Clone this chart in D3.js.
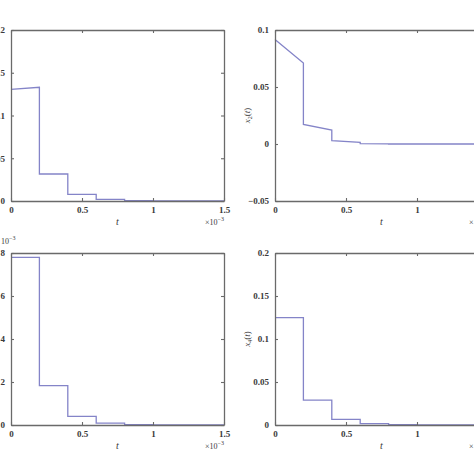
<!DOCTYPE html>
<html><head><meta charset="utf-8">
<script src="https://cdn.jsdelivr.net/npm/d3@7"></script>
<style>
html,body{margin:0;padding:0;background:#fff;}
svg{display:block;font-family:"Liberation Serif","DejaVu Serif",serif;}
</style></head>
<body>
<svg id="c" width="474" height="474"></svg>
<script>
// time points (×10^-3)
const t1 = [0, 0.2, 0.2, 0.4, 0.4, 0.6, 0.6, 0.8, 0.8, 1.0, 1.0, 1.5];
const x1 = [0.1306, 0.1330, 0.0316, 0.0316, 0.0078, 0.0078, 0.0018, 0.0018, 0.0004, 0.0004, 0, 0];
const t2 = [0, 0.2, 0.2, 0.4, 0.4, 0.6, 0.6, 0.8, 0.8, 1.0, 1.0, 1.5];
const x2 = [0.0917, 0.0710, 0.0172, 0.0122, 0.0029, 0.0015, 0.0003, 0.0001, 0, 0, 0, 0];
const t3 = [0, 0.2, 0.2, 0.4, 0.4, 0.6, 0.6, 0.8, 0.8, 1.0, 1.0, 1.5];
const x3 = [7.80, 7.80, 1.83, 1.83, 0.40, 0.40, 0.09, 0.09, 0.02, 0.02, 0, 0]; // ×10^-3
const t4 = [0, 0.2, 0.2, 0.4, 0.4, 0.6, 0.6, 0.8, 0.8, 1.0, 1.0, 1.5];
const x4 = [0.1248, 0.1248, 0.0290, 0.0290, 0.0066, 0.0066, 0.0015, 0.0015, 0.0003, 0.0003, 0, 0];

const xTicks = [0, 0.5, 1, 1.5];
const xTickLabels = ["0", "0.5", "1", "1.5"];
const yTicks1 = [0, 0.05, 0.1, 0.15, 0.2];
const yTickLabels1 = ["0", "0.05", "0.1", "0.15", "0.2"];
const yTicks2 = [-0.05, 0, 0.05, 0.1];
const yTickLabels2 = ["\u22120.05", "0", "0.05", "0.1"];
const yTicks3 = [0, 2, 4, 6, 8];
const yTickLabels3 = ["0", "2", "4", "6", "8"];
const yTicks4 = [0, 0.05, 0.1, 0.15, 0.2];
const yTickLabels4 = ["0", "0.05", "0.1", "0.15", "0.2"];

const panels = [
  {left: 11, top: 30, w: 213, h: 171, t: t1, v: x1, yd: [0, 0.2], yt: yTicks1, yl: yTickLabels1, sub: "1", xExp: true},
  {left: 275, top: 30, w: 213, h: 171, t: t2, v: x2, yd: [-0.05, 0.1], yt: yTicks2, yl: yTickLabels2, sub: "2", xExp: true},
  {left: 11, top: 253, w: 213, h: 172, t: t3, v: x3, yd: [0, 8], yt: yTicks3, yl: yTickLabels3, sub: "3", xExp: true, yExp: true},
  {left: 275, top: 253, w: 213, h: 172, t: t4, v: x4, yd: [0, 0.2], yt: yTicks4, yl: yTickLabels4, sub: "4", xExp: true}
];

const svg = d3.select("#c");
const axisCol = "#6a6a6a", textCol = "#3a3a3a", lineCol = "#8484c8";
const fs = 9;

panels.forEach(p => {
  const g = svg.append("g").attr("transform", `translate(${p.left},${p.top})`);
  const x = d3.scaleLinear().domain([0, 1.5]).range([0, p.w]);
  const y = d3.scaleLinear().domain(p.yd).range([p.h, 0]);

  // data line
  const pts = p.t.map((tv, i) => [tv, p.v[i]]);
  g.append("path").datum(pts)
    .attr("d", d3.line().x(d => x(d[0])).y(d => y(d[1])))
    .attr("fill", "none").attr("stroke", lineCol).attr("stroke-width", 1.3);

  // axes (ticks inward)
  const styleAxis = sel => {
    sel.select(".domain").attr("stroke", axisCol).attr("stroke-width", 1.3);
    sel.selectAll(".tick line").attr("stroke", axisCol).attr("stroke-width", 1.1);
    sel.selectAll(".tick text").attr("fill", textCol).attr("font-size", fs)
      .attr("font-family", "Liberation Serif, DejaVu Serif, serif").attr("font-weight", "bold");
  };
  const bx = g.append("g").attr("transform", `translate(0,${p.h})`)
    .call(d3.axisBottom(x).tickValues(xTicks).tickSizeInner(-3).tickSizeOuter(0).tickPadding(6)
      .tickFormat((d, i) => xTickLabels[i]));
  styleAxis(bx);
  const tx = g.append("g")
    .call(d3.axisTop(x).tickValues(xTicks).tickSizeInner(-3).tickSizeOuter(0).tickFormat(""));
  styleAxis(tx);
  const ly = g.append("g")
    .call(d3.axisLeft(y).tickValues(p.yt).tickSizeInner(-3).tickSizeOuter(0).tickPadding(6)
      .tickFormat((d, i) => p.yl[i]));
  styleAxis(ly);
  const ry = g.append("g").attr("transform", `translate(${p.w},0)`)
    .call(d3.axisRight(y).tickValues(p.yt).tickSizeInner(-3).tickSizeOuter(0).tickFormat(""));
  styleAxis(ry);

  // x label
  g.append("text").attr("x", p.w / 2).attr("y", p.h + 24)
    .attr("text-anchor", "middle").attr("font-size", 10).attr("font-style", "italic")
    .attr("fill", textCol).text("t");
  // ×10^-3 under x axis
  if (p.xExp) {
    const e = g.append("text").attr("x", p.w).attr("y", p.h + 24)
      .attr("text-anchor", "end").attr("font-size", 8).attr("fill", textCol);
    e.append("tspan").text("\u00d710");
    e.append("tspan").attr("dy", -4).attr("font-size", 6).text("\u22123");
  }
  // 10^-3 above y axis
  if (p.yExp) {
    const e = g.append("text").attr("x", -10).attr("y", -9)
      .attr("text-anchor", "start").attr("font-size", 8).attr("fill", textCol);
    e.append("tspan").text("10");
    e.append("tspan").attr("dy", -4).attr("font-size", 6).text("\u22123");
  }
  // y label
  const yl = g.append("text")
    .attr("transform", `translate(-25,${p.h / 2}) rotate(-90)`)
    .attr("text-anchor", "middle").attr("font-size", 9).attr("fill", textCol);
  yl.append("tspan").attr("font-style", "italic").text("x");
  yl.append("tspan").attr("dy", 2).attr("font-size", 6).text(p.sub);
  yl.append("tspan").attr("dy", -2).text("(");
  yl.append("tspan").attr("font-style", "italic").text("t");
  yl.append("tspan").text(")");
});
</script>
</body></html>
